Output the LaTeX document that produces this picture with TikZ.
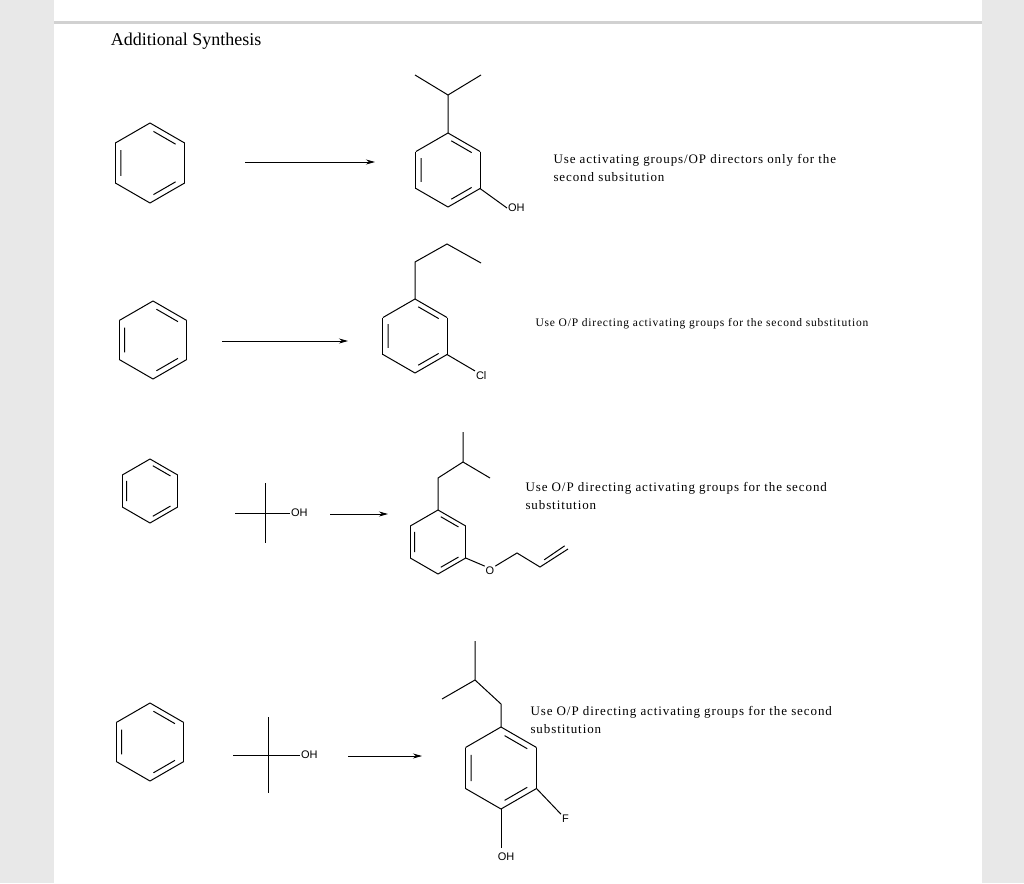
\documentclass[tikz,border=0pt]{standalone}
\usepackage{fontspec}
\setmainfont{Liberation Serif}
\newfontfamily\labfont{Liberation Sans}
\newfontfamily\notefont[LetterSpace=7]{Liberation Serif}
\usetikzlibrary{calc,arrows.meta}
\newcommand\benz[3]{% x,y,r
  \foreach \a in {-90,-30,30,90,150,210}{\draw (#1,#2)++(\a:#3) -- ++(\a+120:#3);}
  \foreach \a in {-90,30,150}{\draw ($(#1,#2)!0.84!($(#1,#2)+(\a:#3)$)!0.12!($(#1,#2)+(\a+60:0.84*#3)$)$) -- ($($(#1,#2)+(\a+60:0.84*#3)$)!0.12!($(#1,#2)+(\a:0.84*#3)$)$);}
}
\begin{document}
\begin{tikzpicture}[x=1pt,y=-1pt,line width=1pt,
  arr/.style={-{Stealth[length=9pt,width=5pt]},line width=0.8pt},
  lab/.style={font=\labfont\fontsize{11}{12}\selectfont,inner sep=0.5pt},
  note/.style={font=\notefont\fontsize{13}{18}\selectfont,align=left,anchor=north west,inner sep=0}]
\fill[black!9] (0,0) rectangle (1024,883);
\fill[white] (54,0) rectangle (982,883);
\fill[black!18] (54,21) rectangle (982,24);
\useasboundingbox (0,0) rectangle (1024,883);
\node[anchor=west,font=\fontsize{18}{20}\selectfont] (title) at (107,41) {Additional Synthesis};
% row 1
\benz{150}{163}{40}
\coordinate (a1s) at (245,162); \coordinate (a1e) at (375,162);
\draw[arr] (a1s) -- (a1e);
\benz{448}{170}{37}
\draw (448,133) -- (448,95) -- (415,75) (448,95) -- (481,75);
\node[lab,anchor=west] (oh1) at (507,208) {OH};
\draw (480,188.5) -- (oh1.west);
\node[note] (n1) at (553,154) {Use activating groups/OP directors only for the\\second subsitution};
% row 2
\benz{153}{340}{39}
\coordinate (a2s) at (222,341); \coordinate (a2e) at (348,341);
\draw[arr] (a2s) -- (a2e);
\benz{415}{336}{37}
\draw (415,299) -- (415,262) -- (447,244) -- (481,263);
\node[lab,anchor=west] (cl2) at (475,376) {Cl};
\draw (447,354.5) -- (cl2.north west);
\node[note,font=\notefont\fontsize{11.5}{13}\selectfont] (n2) at (535,318) {Use O/P directing activating groups for the second substitution};
% row 3
\benz{150}{491}{32}
\draw (265,483) -- (265,543) (235,513) -- (290,513);
\node[lab,anchor=west] (oh3) at (290,513) {OH};
\coordinate (a3s) at (330,514); \coordinate (a3e) at (388,514);
\draw[arr] (a3s) -- (a3e);
\benz{438}{542}{32}
\draw (438,510) -- (438,478) -- (463,462) -- (463,432) (463,462) -- (490,478);
\node[lab] (o3) at (490,571) {O};
\draw (465.7,558) -- (o3.north west) (o3.north east) -- (517,553) -- (540,567) -- (568,549);
\draw ($(540,567)!0.15!(568,549)+(0,-4.5)$) -- ($(540,567)!0.9!(568,549)+(-0.5,-5)$);
\node[note] (n3) at (525,482) {Use O/P directing activating groups for the second\\substitution};
% row 4
\benz{150}{742}{39}
\draw (268,717) -- (268,793) (233,755) -- (300,755);
\node[lab,anchor=west] (oh4) at (300,755) {OH};
\coordinate (a4s) at (348,756); \coordinate (a4e) at (422,756);
\draw[arr] (a4s) -- (a4e);
\benz{501}{768}{41}
\draw (501,727) -- (501,704) -- (475,680) -- (475,641) (475,680) -- (442,699);
\node[lab,anchor=west] (f4) at (561,819) {F};
\draw (536.5,788.5) -- (f4.north west);
\node[lab] (oh4b) at (506,857) {OH};
\draw (501,809) -- (501,848);
\node[note] (n4) at (530,706) {Use O/P directing activating groups for the second\\substitution};
\end{tikzpicture}
\end{document}
